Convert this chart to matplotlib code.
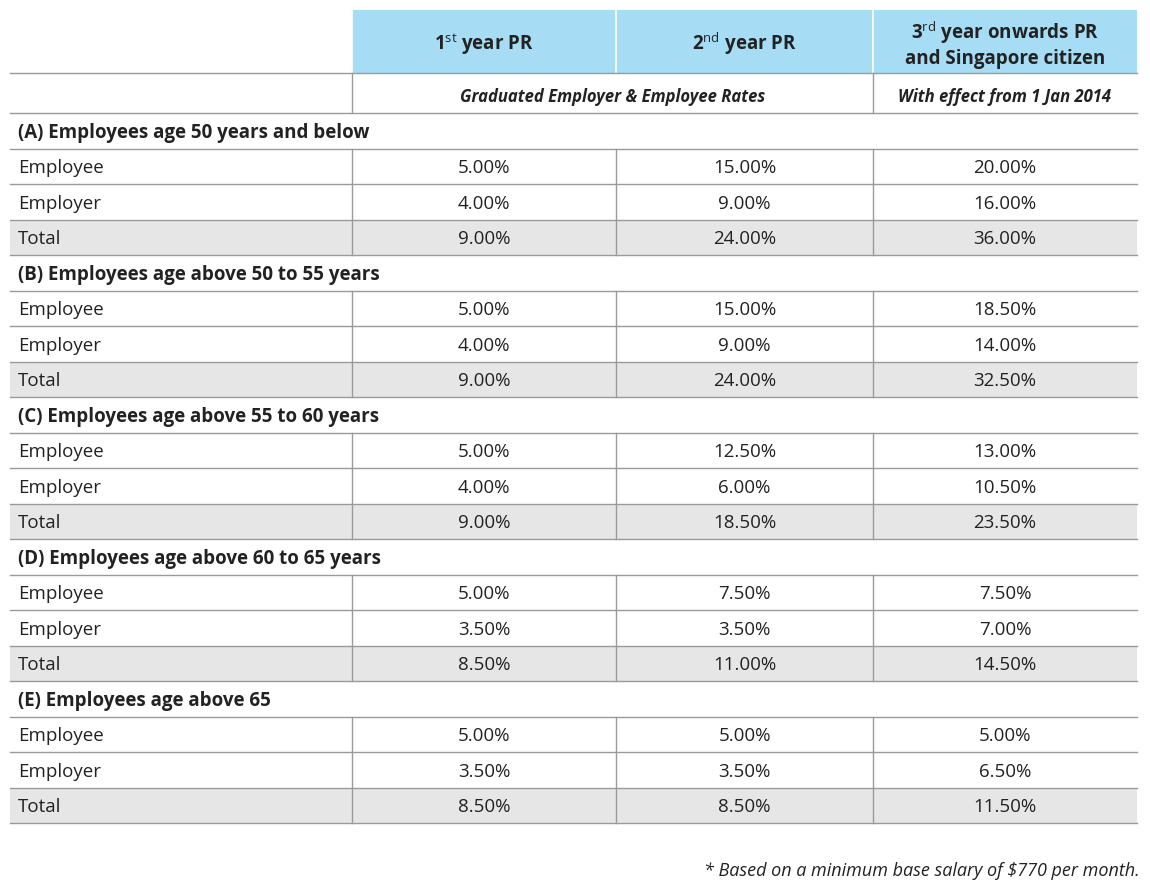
import matplotlib.pyplot as plt
from matplotlib.patches import Rectangle

plt.rcParams['font.family'] = ['Open Sans', 'DejaVu Sans']
plt.rcParams['mathtext.fontset'] = 'custom'
plt.rcParams['mathtext.rm'] = 'Open Sans'
plt.rcParams['mathtext.bf'] = 'Open Sans:bold'

headers = [r"1$^{\mathrm{st}}$ year PR", r"2$^{\mathrm{nd}}$ year PR",
           "3$^{\\mathrm{rd}}$ year onwards PR\nand Singapore citizen"]
sections = ["(A) Employees age 50 years and below",
            "(B) Employees age above 50 to 55 years",
            "(C) Employees age above 55 to 60 years",
            "(D) Employees age above 60 to 65 years",
            "(E) Employees age above 65"]
row_labels = ["Employee", "Employer", "Total"]
employee = [[5.00, 15.00, 20.00], [5.00, 15.00, 18.50], [5.00, 12.50, 13.00],
            [5.00, 7.50, 7.50], [5.00, 5.00, 5.00]]
employer = [[4.00, 9.00, 16.00], [4.00, 9.00, 14.00], [4.00, 6.00, 10.50],
            [3.50, 3.50, 7.00], [3.50, 3.50, 6.50]]
total = [[9.00, 24.00, 36.00], [9.00, 24.00, 32.50], [9.00, 18.50, 23.50],
         [8.50, 11.00, 14.50], [8.50, 8.50, 11.50]]

fig = plt.figure(figsize=(11.5, 8.89), dpi=100)
ax = fig.add_axes([0, 0, 1, 1])
ax.set_xlim(0, 1150)
ax.set_ylim(889, 0)
ax.axis("off")

xs = [10, 352, 616, 873, 1137]
line_c = "#9a9a9a"
blue = "#A6DDF5"
grey = "#E6E6E6"
fs = 13.5
dy = 2  # text sits slightly below the row centre

# header
ax.add_patch(Rectangle((xs[1], 10), xs[4] - xs[1], 63, fc=blue, ec="none"))
for x in xs[1:4]:
    ax.plot([x, x], [10, 73], color="white", lw=1.2)
for i, h in enumerate(headers):
    ax.text((xs[i + 1] + xs[i + 2]) / 2, 44, h, ha="center", va="center",
            fontsize=fs, fontweight="bold", color="#222222", linespacing=1.2)
ax.plot([xs[0], xs[4]], [73, 73], color=line_c, lw=1)
for x in [xs[1], xs[3]]:
    ax.plot([x, x], [73, 113], color=line_c, lw=1)
ax.text((xs[1] + xs[3]) / 2, 97, "Graduated Employer & Employee Rates", ha="center",
        va="center", fontsize=12, fontweight="bold", style="italic", color="#222222")
ax.text((xs[3] + xs[4]) / 2, 97, "With effect from 1 Jan 2014", ha="center",
        va="center", fontsize=12, fontweight="bold", style="italic", color="#222222")

rh = 35.5
y = 113
for s, name in enumerate(sections):
    ax.plot([xs[0], xs[4]], [y, y], color=line_c, lw=1)
    ax.text(18, y + rh / 2 + dy, name, va="center", fontsize=fs, fontweight="bold", color="#222222")
    y += rh
    for r, vals in enumerate([employee[s], employer[s], total[s]]):
        if r == 2:
            ax.add_patch(Rectangle((xs[0], y), xs[4] - xs[0], rh, fc=grey, ec="none"))
        ax.plot([xs[0], xs[4]], [y, y], color=line_c, lw=1)
        for x in xs[1:4]:
            ax.plot([x, x], [y, y + rh], color=line_c, lw=1)
        ax.text(18, y + rh / 2 + dy, row_labels[r], va="center", fontsize=fs, color="#222222")
        for c, v in enumerate(vals):
            ax.text((xs[c + 1] + xs[c + 2]) / 2, y + rh / 2 + dy, f"{v:.2f}%", ha="center",
                    va="center", fontsize=fs, color="#222222")
        y += rh
ax.plot([xs[0], xs[4]], [y, y], color=line_c, lw=1)

ax.text(1140, 871, "* Based on a minimum base salary of $770 per month.", ha="right",
        va="center", fontsize=13, style="italic", color="#222222")

fig.savefig("out.png", dpi=100)
